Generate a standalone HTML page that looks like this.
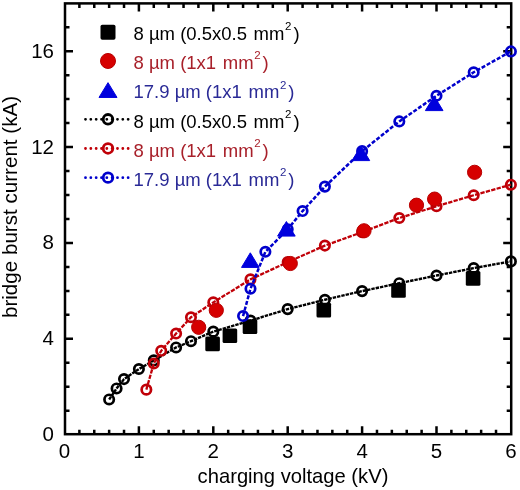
<!DOCTYPE html>
<html><head><meta charset="utf-8"><style>
html,body{margin:0;padding:0;background:#fff;}
body{width:520px;height:490px;overflow:hidden;}
svg{display:block;}
text{font-family:"Liberation Sans",Arial,sans-serif;}
</style></head><body>
<svg width="520" height="490" viewBox="0 0 520 490">
<rect width="520" height="490" fill="#fff"/>

<rect x="65.0" y="3.4" width="446.2" height="430.8" fill="none" stroke="#000" stroke-width="2.5"/>
<path d="M79.38 434.2V429.70M79.38 3.4V7.90M94.26 434.2V429.70M94.26 3.4V7.90M109.14 434.2V429.70M109.14 3.4V7.90M124.02 434.2V429.70M124.02 3.4V7.90M138.90 434.2V426.20M138.90 3.4V11.40M153.78 434.2V429.70M153.78 3.4V7.90M168.66 434.2V429.70M168.66 3.4V7.90M183.54 434.2V429.70M183.54 3.4V7.90M198.42 434.2V429.70M198.42 3.4V7.90M213.30 434.2V426.20M213.30 3.4V11.40M228.18 434.2V429.70M228.18 3.4V7.90M243.06 434.2V429.70M243.06 3.4V7.90M257.94 434.2V429.70M257.94 3.4V7.90M272.82 434.2V429.70M272.82 3.4V7.90M287.70 434.2V426.20M287.70 3.4V11.40M302.58 434.2V429.70M302.58 3.4V7.90M317.46 434.2V429.70M317.46 3.4V7.90M332.34 434.2V429.70M332.34 3.4V7.90M347.22 434.2V429.70M347.22 3.4V7.90M362.10 434.2V426.20M362.10 3.4V11.40M376.98 434.2V429.70M376.98 3.4V7.90M391.86 434.2V429.70M391.86 3.4V7.90M406.74 434.2V429.70M406.74 3.4V7.90M421.62 434.2V429.70M421.62 3.4V7.90M436.50 434.2V426.20M436.50 3.4V11.40M451.38 434.2V429.70M451.38 3.4V7.90M466.26 434.2V429.70M466.26 3.4V7.90M481.14 434.2V429.70M481.14 3.4V7.90M496.02 434.2V429.70M496.02 3.4V7.90M65.0 410.73H69.50M511.2 410.73H506.70M65.0 386.76H69.50M511.2 386.76H506.70M65.0 362.79H69.50M511.2 362.79H506.70M65.0 338.82H73.00M511.2 338.82H503.20M65.0 314.85H69.50M511.2 314.85H506.70M65.0 290.88H69.50M511.2 290.88H506.70M65.0 266.91H69.50M511.2 266.91H506.70M65.0 242.94H73.00M511.2 242.94H503.20M65.0 218.97H69.50M511.2 218.97H506.70M65.0 195.00H69.50M511.2 195.00H506.70M65.0 171.03H69.50M511.2 171.03H506.70M65.0 147.06H73.00M511.2 147.06H503.20M65.0 123.09H69.50M511.2 123.09H506.70M65.0 99.12H69.50M511.2 99.12H506.70M65.0 75.15H69.50M511.2 75.15H506.70M65.0 51.18H73.00M511.2 51.18H503.20M65.0 27.21H69.50M511.2 27.21H506.70" stroke="#000" stroke-width="2.5" fill="none"/>
<text x="64.5" y="458" font-size="20.5" text-anchor="middle">0</text>
<text x="138.9" y="458" font-size="20.5" text-anchor="middle">1</text>
<text x="213.3" y="458" font-size="20.5" text-anchor="middle">2</text>
<text x="287.7" y="458" font-size="20.5" text-anchor="middle">3</text>
<text x="362.1" y="458" font-size="20.5" text-anchor="middle">4</text>
<text x="436.5" y="458" font-size="20.5" text-anchor="middle">5</text>
<text x="510.9" y="458" font-size="20.5" text-anchor="middle">6</text>
<text x="54" y="441.1" font-size="20.5" text-anchor="end">0</text>
<text x="54" y="345.2" font-size="20.5" text-anchor="end">4</text>
<text x="54" y="249.3" font-size="20.5" text-anchor="end">8</text>
<text x="54" y="153.5" font-size="20.5" text-anchor="end">12</text>
<text x="54" y="57.6" font-size="20.5" text-anchor="end">16</text>
<text x="293" y="482.7" font-size="20.2" text-anchor="middle">charging voltage (kV)</text>
<text transform="translate(16.5 207) rotate(-90)" x="0" y="0" font-size="20.6" text-anchor="middle">bridge burst current (kA)</text>
<polyline points="109.14,399.46 116.58,388.44 124.02,379.09 138.90,369.02 153.78,360.39 176.10,347.45 190.98,341.22 213.30,331.63 250.50,320.60 287.70,309.10 324.90,299.75 362.10,291.12 399.30,283.21 436.50,275.54 473.70,268.11 510.90,261.40" fill="none" stroke="#000000" stroke-width="2.4" stroke-dasharray="3.4 1"/>
<circle cx="109.14" cy="399.46" r="4.7" fill="none" stroke="#000000" stroke-width="2.7"/><circle cx="116.58" cy="388.44" r="4.7" fill="none" stroke="#000000" stroke-width="2.7"/><circle cx="124.02" cy="379.09" r="4.7" fill="none" stroke="#000000" stroke-width="2.7"/><circle cx="138.90" cy="369.02" r="4.7" fill="none" stroke="#000000" stroke-width="2.7"/><circle cx="153.78" cy="360.39" r="4.7" fill="none" stroke="#000000" stroke-width="2.7"/><circle cx="176.10" cy="347.45" r="4.7" fill="none" stroke="#000000" stroke-width="2.7"/><circle cx="190.98" cy="341.22" r="4.7" fill="none" stroke="#000000" stroke-width="2.7"/><circle cx="213.30" cy="331.63" r="4.7" fill="none" stroke="#000000" stroke-width="2.7"/><circle cx="250.50" cy="320.60" r="4.7" fill="none" stroke="#000000" stroke-width="2.7"/><circle cx="287.70" cy="309.10" r="4.7" fill="none" stroke="#000000" stroke-width="2.7"/><circle cx="324.90" cy="299.75" r="4.7" fill="none" stroke="#000000" stroke-width="2.7"/><circle cx="362.10" cy="291.12" r="4.7" fill="none" stroke="#000000" stroke-width="2.7"/><circle cx="399.30" cy="283.21" r="4.7" fill="none" stroke="#000000" stroke-width="2.7"/><circle cx="436.50" cy="275.54" r="4.7" fill="none" stroke="#000000" stroke-width="2.7"/><circle cx="473.70" cy="268.11" r="4.7" fill="none" stroke="#000000" stroke-width="2.7"/><circle cx="510.90" cy="261.40" r="4.7" fill="none" stroke="#000000" stroke-width="2.7"/>
<rect x="205.30" y="336.60" width="14.6" height="14.6" rx="1.5" fill="#000"/><rect x="222.60" y="328.50" width="14.6" height="14.6" rx="1.5" fill="#000"/><rect x="242.70" y="319.30" width="14.6" height="14.6" rx="1.5" fill="#000"/><rect x="316.50" y="302.80" width="14.6" height="14.6" rx="1.5" fill="#000"/><rect x="391.20" y="283.10" width="14.6" height="14.6" rx="1.5" fill="#000"/><rect x="465.80" y="271.10" width="14.6" height="14.6" rx="1.5" fill="#000"/>
<polyline points="146.34,389.64 153.78,363.51 161.22,350.81 176.10,333.55 190.98,317.25 213.30,302.39 250.50,279.37 287.70,262.12 324.90,245.58 362.10,232.15 399.30,218.01 436.50,206.27 473.70,195.24 510.90,184.69" fill="none" stroke="#c00008" stroke-width="2.3" stroke-dasharray="4.3 1.3"/>
<circle cx="146.34" cy="389.64" r="4.7" fill="none" stroke="#c00008" stroke-width="2.7"/><circle cx="153.78" cy="363.51" r="4.7" fill="none" stroke="#c00008" stroke-width="2.7"/><circle cx="161.22" cy="350.81" r="4.7" fill="none" stroke="#c00008" stroke-width="2.7"/><circle cx="176.10" cy="333.55" r="4.7" fill="none" stroke="#c00008" stroke-width="2.7"/><circle cx="190.98" cy="317.25" r="4.7" fill="none" stroke="#c00008" stroke-width="2.7"/><circle cx="213.30" cy="302.39" r="4.7" fill="none" stroke="#c00008" stroke-width="2.7"/><circle cx="250.50" cy="279.37" r="4.7" fill="none" stroke="#c00008" stroke-width="2.7"/><circle cx="287.70" cy="262.12" r="4.7" fill="none" stroke="#c00008" stroke-width="2.7"/><circle cx="324.90" cy="245.58" r="4.7" fill="none" stroke="#c00008" stroke-width="2.7"/><circle cx="362.10" cy="232.15" r="4.7" fill="none" stroke="#c00008" stroke-width="2.7"/><circle cx="399.30" cy="218.01" r="4.7" fill="none" stroke="#c00008" stroke-width="2.7"/><circle cx="436.50" cy="206.27" r="4.7" fill="none" stroke="#c00008" stroke-width="2.7"/><circle cx="473.70" cy="195.24" r="4.7" fill="none" stroke="#c00008" stroke-width="2.7"/><circle cx="510.90" cy="184.69" r="4.7" fill="none" stroke="#c00008" stroke-width="2.7"/>
<circle cx="198.7" cy="327.3" r="7.1" fill="#d60000" stroke="#b80000" stroke-width="1"/><circle cx="216.3" cy="310.3" r="7.1" fill="#d60000" stroke="#b80000" stroke-width="1"/><circle cx="290.3" cy="263.5" r="7.1" fill="#d60000" stroke="#b80000" stroke-width="1"/><circle cx="364.0" cy="230.8" r="7.1" fill="#d60000" stroke="#b80000" stroke-width="1"/><circle cx="416.5" cy="205.2" r="7.1" fill="#d60000" stroke="#b80000" stroke-width="1"/><circle cx="434.6" cy="199.1" r="7.1" fill="#d60000" stroke="#b80000" stroke-width="1"/><circle cx="474.6" cy="172.3" r="7.1" fill="#d60000" stroke="#b80000" stroke-width="1"/>
<polyline points="243.06,316.05 250.50,288.72 265.38,251.81 287.70,229.28 302.58,211.06 324.90,186.61 362.10,151.13 399.30,121.41 436.50,95.76 473.70,72.27 510.90,51.42" fill="none" stroke="#0000cc" stroke-width="2.5" stroke-dasharray="4 1.8"/>
<circle cx="243.06" cy="316.05" r="4.7" fill="none" stroke="#0000cc" stroke-width="2.7"/><circle cx="250.50" cy="288.72" r="4.7" fill="none" stroke="#0000cc" stroke-width="2.7"/><circle cx="265.38" cy="251.81" r="4.7" fill="none" stroke="#0000cc" stroke-width="2.7"/><circle cx="287.70" cy="229.28" r="4.7" fill="none" stroke="#0000cc" stroke-width="2.7"/><circle cx="302.58" cy="211.06" r="4.7" fill="none" stroke="#0000cc" stroke-width="2.7"/><circle cx="324.90" cy="186.61" r="4.7" fill="none" stroke="#0000cc" stroke-width="2.7"/><circle cx="362.10" cy="151.13" r="4.7" fill="none" stroke="#0000cc" stroke-width="2.7"/><circle cx="399.30" cy="121.41" r="4.7" fill="none" stroke="#0000cc" stroke-width="2.7"/><circle cx="436.50" cy="95.76" r="4.7" fill="none" stroke="#0000cc" stroke-width="2.7"/><circle cx="473.70" cy="72.27" r="4.7" fill="none" stroke="#0000cc" stroke-width="2.7"/><circle cx="510.90" cy="51.42" r="4.7" fill="none" stroke="#0000cc" stroke-width="2.7"/>
<path d="M241.50 267.4L259.10 267.4L250.30 252.80Z" fill="#0000dd" stroke="#0000dd" stroke-width="1" stroke-linejoin="round"/><path d="M277.60 236.1L295.20 236.1L286.40 221.50Z" fill="#0000dd" stroke="#0000dd" stroke-width="1" stroke-linejoin="round"/><path d="M352.10 160.6L369.70 160.6L360.90 146.00Z" fill="#0000dd" stroke="#0000dd" stroke-width="1" stroke-linejoin="round"/><path d="M425.40 110.6L443.00 110.6L434.20 96.00Z" fill="#0000dd" stroke="#0000dd" stroke-width="1" stroke-linejoin="round"/>
<rect x="100.5" y="24.70" width="15" height="15" rx="1.8" fill="#000000"/>
<text x="133.5" y="40.00" font-size="18.5" fill="#000000">8 µm (0.5x0.5<tspan dx="1.5"> mm</tspan><tspan font-size="11.5" dx="0.6" dy="-9.7">2</tspan><tspan dx="2" dy="9.7">)</tspan></text>
<circle cx="108.0" cy="60.97" r="7.5" fill="#d60000" stroke="#b80000" stroke-width="1"/>
<text x="133.5" y="69.17" font-size="18.5" fill="#a8202a">8 µm (1x1<tspan dx="1.5"> mm</tspan><tspan font-size="11.5" dx="0.6" dy="-9.7">2</tspan><tspan dx="2" dy="9.7">)</tspan></text>
<path d="M99.00 97.44L117.00 97.44L108.00 82.64Z" fill="#0000dd" stroke="#0000dd" stroke-width="1" stroke-linejoin="round"/>
<text x="133.5" y="98.34" font-size="18.5" fill="#2a2a96">17.9 µm (1x1<tspan dx="1.5"> mm</tspan><tspan font-size="11.5" dx="0.6" dy="-9.7">2</tspan><tspan dx="2" dy="9.7">)</tspan></text>
<line x1="85.5" y1="119.31" x2="128.5" y2="119.31" stroke="#000000" stroke-width="2.8" stroke-linecap="round" stroke-dasharray="0.01 5.32"/>
<circle cx="108.0" cy="119.31" r="4.8" fill="none" stroke="#000000" stroke-width="2.8"/>
<text x="133.5" y="127.51" font-size="18.5" fill="#000000">8 µm (0.5x0.5<tspan dx="1.5"> mm</tspan><tspan font-size="11.5" dx="0.6" dy="-9.7">2</tspan><tspan dx="2" dy="9.7">)</tspan></text>
<line x1="85.5" y1="148.48" x2="128.5" y2="148.48" stroke="#c00008" stroke-width="2.8" stroke-linecap="round" stroke-dasharray="0.01 5.32"/>
<circle cx="108.0" cy="148.48" r="4.8" fill="none" stroke="#c00008" stroke-width="2.8"/>
<text x="133.5" y="156.68" font-size="18.5" fill="#a8202a">8 µm (1x1<tspan dx="1.5"> mm</tspan><tspan font-size="11.5" dx="0.6" dy="-9.7">2</tspan><tspan dx="2" dy="9.7">)</tspan></text>
<line x1="85.5" y1="177.65" x2="128.5" y2="177.65" stroke="#0000cc" stroke-width="2.8" stroke-linecap="round" stroke-dasharray="0.01 5.32"/>
<circle cx="108.0" cy="177.65" r="4.8" fill="none" stroke="#0000cc" stroke-width="2.8"/>
<text x="133.5" y="185.85" font-size="18.5" fill="#2a2a96">17.9 µm (1x1<tspan dx="1.5"> mm</tspan><tspan font-size="11.5" dx="0.6" dy="-9.7">2</tspan><tspan dx="2" dy="9.7">)</tspan></text>
</svg>
</body></html>
